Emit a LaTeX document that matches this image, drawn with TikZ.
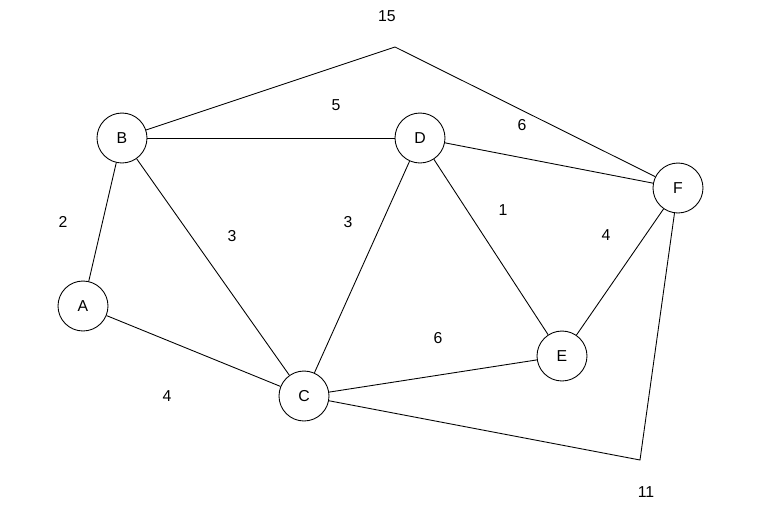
\documentclass[tikz,border=0pt]{standalone}
\usepackage{fontspec}
\setmainfont{Liberation Sans}
\begin{document}
\begin{tikzpicture}[x=0.02cm,y=-0.02cm,
  vtx/.style={circle,draw,minimum size=1cm,inner sep=0pt,font=\fontsize{9}{10}\selectfont},
  wt/.style={font=\fontsize{9}{10}\selectfont},
  every path/.style={line width=0.5pt}]
\useasboundingbox (0,0) rectangle (772,528);
\node[vtx] (B) at (122,138) {B};
\node[vtx] (D) at (420,138) {D};
\node[vtx] (F) at (678,188) {F};
\node[vtx] (A) at (83,306) {A};
\node[vtx] (C) at (304,396) {C};
\node[vtx] (E) at (562,356) {E};
\coordinate (T) at (395,47);
\coordinate (R) at (640,460);
\draw (B) -- (T) -- (F);
\draw (B) -- (D);
\draw (D) -- (F);
\draw (B) -- (A);
\draw (B) -- (C);
\draw (D) -- (C);
\draw (D) -- (E);
\draw (F) -- (E);
\draw (A) -- (C);
\draw (C) -- (E);
\draw (C) -- (R) -- (F);
\node[wt] (w1) at (387,16) {15};
\node[wt] (w2) at (336,105) {5};
\node[wt] (w3) at (522,125) {6};
\node[wt] (w4) at (63,222) {2};
\node[wt] (w5) at (232,236) {3};
\node[wt] (w6) at (348,222) {3};
\node[wt] (w7) at (503,210) {1};
\node[wt] (w8) at (606,235) {4};
\node[wt] (w9) at (438,338) {6};
\node[wt] (w10) at (167,396) {4};
\node[wt] (w11) at (646,492) {11};
\end{tikzpicture}
\end{document}
